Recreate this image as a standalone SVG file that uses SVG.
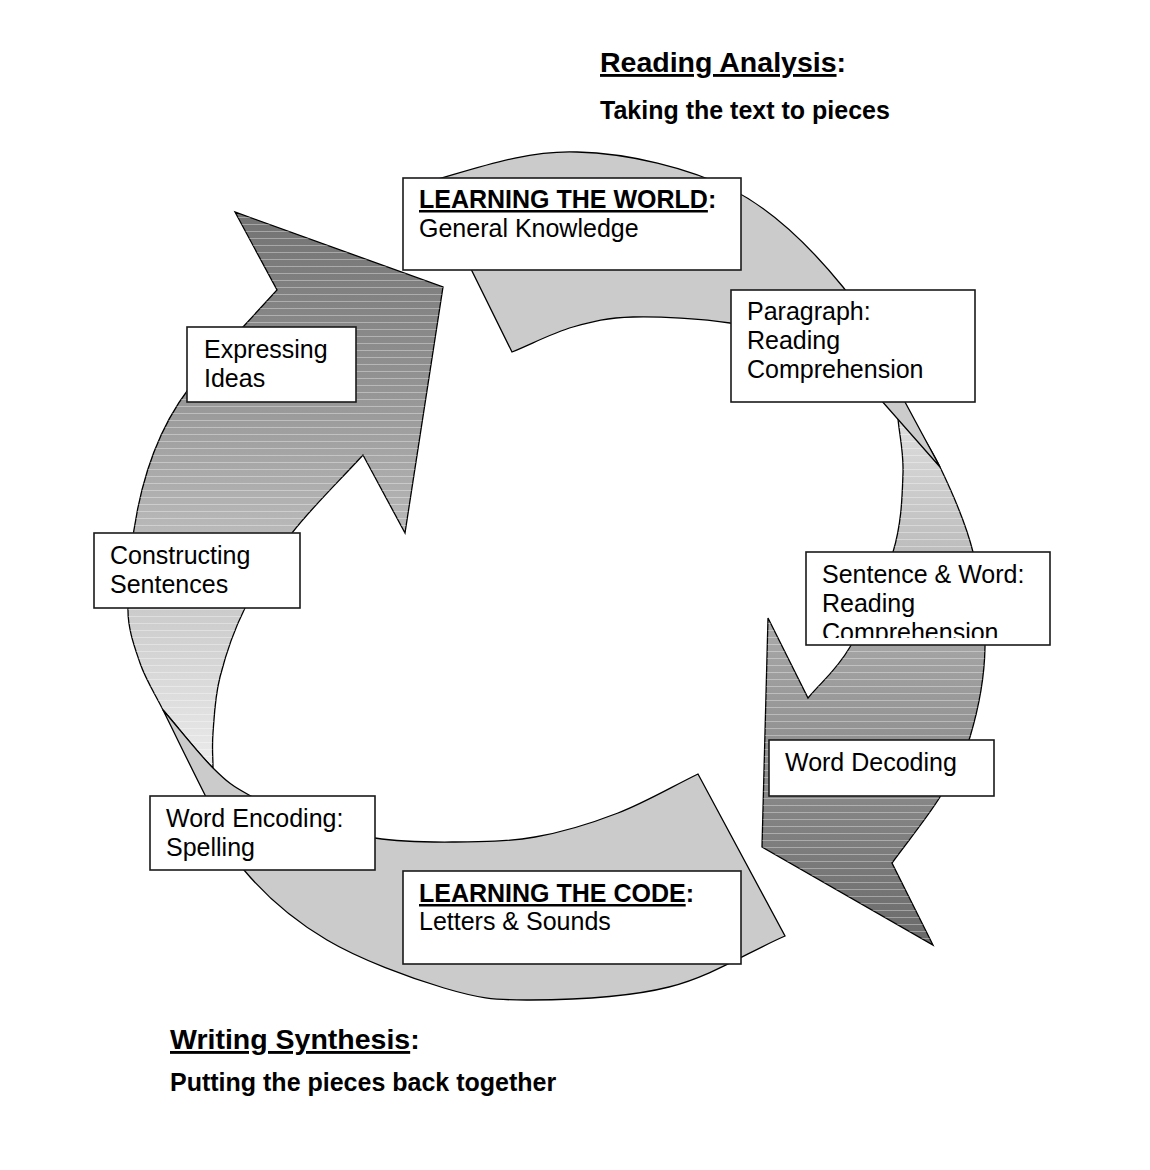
<svg xmlns="http://www.w3.org/2000/svg" width="1150" height="1170" viewBox="0 0 1150 1170">
<defs>
<linearGradient id="gradR" gradientUnits="userSpaceOnUse" x1="0" y1="420" x2="0" y2="945">
<stop offset="0" stop-color="#dedede"/>
<stop offset="0.45" stop-color="#a2a2a2"/>
<stop offset="1" stop-color="#6a6a6a"/>
</linearGradient>
<linearGradient id="gradL" gradientUnits="userSpaceOnUse" x1="0" y1="770" x2="0" y2="212">
<stop offset="0" stop-color="#ececec"/>
<stop offset="0.35" stop-color="#c4c4c4"/>
<stop offset="0.7" stop-color="#929292"/>
<stop offset="1" stop-color="#727272"/>
</linearGradient>
<pattern id="stripes" patternUnits="userSpaceOnUse" width="20" height="7">
<rect x="0" y="0" width="20" height="1" fill="#ffffff" fill-opacity="0.35"/>
</pattern>
<clipPath id="clipSW"><rect x="806" y="552" width="244" height="86"/></clipPath>
</defs>
<style>
.band{fill:#cbcbcb;stroke:#000;stroke-width:1.3;stroke-linejoin:miter}
.arrow{stroke:#000;stroke-width:1.3;stroke-linejoin:miter}
.box{fill:#fff;stroke:#1a1a1a;stroke-width:1.6}
.t{font-family:"Liberation Sans",Arial,sans-serif;font-size:25px;fill:#000}
.b{font-weight:bold}
.u{text-decoration:underline}
.title{font-family:"Liberation Sans",Arial,sans-serif;font-size:28.5px;font-weight:bold;fill:#000}
</style>
<rect width="1150" height="1170" fill="#fff"/>

<g id="connectors">
<g id="arrow-right">
<path class="arrow" fill="url(#gradR)" d="M900,400 C913,422 927.8,441.7 940,467 C952.2,492.3 965.5,522 973,552 C980.5,582 985.5,616.2 985,647 C984.5,677.8 977.5,712 970,737 C962.5,762 953,776 940,797 C927,818 908,841 892,863 L933,945 L762,847 L768,618 L808,698 C822,681 835.8,671.3 850,647 C864.2,622.7 884.2,581 893,552 C901.8,523 902.2,495.3 903,473 C903.8,450.7 898.5,430.2 898,418 C897.5,405.8 899.3,406 900,400 Z"/>
<path fill="url(#stripes)" d="M900,400 C913,422 927.8,441.7 940,467 C952.2,492.3 965.5,522 973,552 C980.5,582 985.5,616.2 985,647 C984.5,677.8 977.5,712 970,737 C962.5,762 953,776 940,797 C927,818 908,841 892,863 L933,945 L762,847 L768,618 L808,698 C822,681 835.8,671.3 850,647 C864.2,622.7 884.2,581 893,552 C901.8,523 902.2,495.3 903,473 C903.8,450.7 898.5,430.2 898,418 C897.5,405.8 899.3,406 900,400 Z"/>
</g>
<g id="arrow-left">
<path class="arrow" fill="url(#gradL)" d="M163,710 C155.3,694.3 145.8,680 140,663 C134.2,646 127.5,628 128,608 C128.5,560 133,450 200,375 L243,327 L277,290 L235,212 L443,287 L405,533 L363,455 C339.3,481 311.7,507.5 292,533 C272.3,558.5 257,584 245,608 C233,632 225.3,656.2 220,677 C214.7,697.8 214.2,717.8 213,733 C211.8,748.2 213,756.3 213,768 C198.7,753.8 179.7,729.3 163,710 Z"/>
<path fill="url(#stripes)" d="M163,710 C155.3,694.3 145.8,680 140,663 C134.2,646 127.5,628 128,608 C128.5,560 133,450 200,375 L243,327 L277,290 L235,212 L443,287 L405,533 L363,455 C339.3,481 311.7,507.5 292,533 C272.3,558.5 257,584 245,608 C233,632 225.3,656.2 220,677 C214.7,697.8 214.2,717.8 213,733 C211.8,748.2 213,756.3 213,768 C198.7,753.8 179.7,729.3 163,710 Z"/>
</g>
<path id="band-top" class="band" d="M428,182 C477.7,168 526.2,150 577,152 C627.8,153.3 688.7,167.5 733,190 C777.3,212.5 814.3,251.7 843,287 C871.7,322.3 888.8,372 905,402 C916.7,423.7 928.3,445.3 940,467 L866,383 C844,369.7 822.7,353 800,343 C777.3,333 757.8,327.3 730,323 C702.2,318.7 659.2,316.3 633,317 C606.8,317.7 593.2,321.2 573,327 C552.8,332.8 532.3,343.7 512,352 Z"/>
<path id="band-bottom" class="band" d="M163,710 C177,738.3 191.5,768.3 205,795 C218.5,821.7 223.7,845.8 244,870 C264.3,894.2 293.7,920.3 327,940 C360.3,959.7 410.2,978 444,988 C477.8,998 492.5,1000.2 530,1000 C567.5,999.8 626.5,997.7 669,987 C711.5,976.3 746.3,953 785,936 L698,774 C671.3,787 645.2,802.5 618,813 C590.8,823.5 562.7,832.2 535,837 C507.3,841.8 478.7,841.8 452,842 C425.3,842.2 398.7,841.7 375,838 C351.3,834.3 331,827.2 310,820 C289,812.8 265.2,803.7 249,795 C232.8,786.3 227.3,782.2 213,768 C198.7,753.8 179.7,729.3 163,710 Z"/>
</g>

<g id="node-world">
<rect class="box" x="403" y="178" width="338" height="92"/>
<text class="t" x="419" y="208"><tspan class="b u">LEARNING THE WORLD</tspan><tspan class="b">:</tspan></text>
<text class="t" x="419" y="237">General Knowledge</text>
</g>
<g id="node-paragraph">
<rect class="box" x="731" y="290" width="244" height="112"/>
<text class="t" x="747" y="320">Paragraph:</text>
<text class="t" x="747" y="349">Reading</text>
<text class="t" x="747" y="378">Comprehension</text>
</g>
<g id="node-sentence-word">
<rect class="box" x="806" y="552" width="244" height="93"/>
<g clip-path="url(#clipSW)">
<text class="t" x="822" y="583">Sentence &amp; Word:</text>
<text class="t" x="822" y="612">Reading</text>
<text class="t" x="822" y="641">Comprehension</text>
</g>
</g>
<g id="node-decoding">
<rect class="box" x="769" y="740" width="225" height="56"/>
<text class="t" x="785" y="771">Word Decoding</text>
</g>
<g id="node-code">
<rect class="box" x="403" y="871" width="338" height="93"/>
<text class="t" x="419" y="902"><tspan class="b u">LEARNING THE CODE</tspan><tspan class="b">:</tspan></text>
<text class="t" x="419" y="930">Letters &amp; Sounds</text>
</g>
<g id="node-encoding">
<rect class="box" x="150" y="796" width="225" height="74"/>
<text class="t" x="166" y="827">Word Encoding:</text>
<text class="t" x="166" y="856">Spelling</text>
</g>
<g id="node-sentences">
<rect class="box" x="94" y="533" width="206" height="75"/>
<text class="t" x="110" y="564">Constructing</text>
<text class="t" x="110" y="593">Sentences</text>
</g>
<g id="node-ideas">
<rect class="box" x="187" y="327" width="169" height="75"/>
<text class="t" x="204" y="358">Expressing</text>
<text class="t" x="204" y="387">Ideas</text>
</g>

<g id="title-reading">
<text class="title" x="600" y="72"><tspan class="u">Reading Analysis</tspan>:</text>
<text class="t b" x="600" y="119">Taking the text to pieces</text>
</g>
<g id="title-writing">
<text class="title" x="170" y="1049"><tspan class="u">Writing Synthesis</tspan>:</text>
<text class="t b" x="170" y="1091">Putting the pieces back together</text>
</g>
</svg>
